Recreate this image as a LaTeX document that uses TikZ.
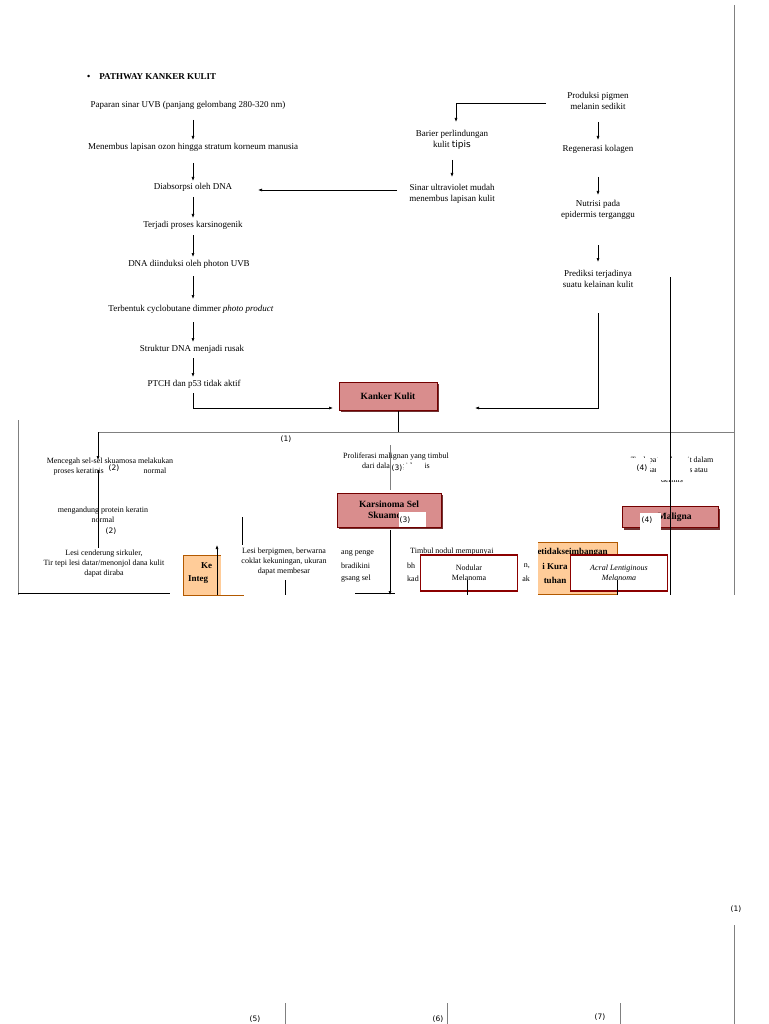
\documentclass[tikz,border=0pt]{standalone}
\usepackage{fontspec}
\setmainfont{Liberation Serif}
\newfontfamily\sansf{DejaVu Sans}
\usetikzlibrary{arrows.meta,shadows}
\begin{document}
\begin{tikzpicture}[x=1pt,y=-1pt,
  t/.style={font=\fontsize{9}{11}\selectfont,align=center,inner sep=0pt},
  s/.style={font=\fontsize{8}{10}\selectfont,align=center,inner sep=0pt},
  num/.style={font=\sansf\fontsize{7.5}{9}\selectfont,inner sep=0.5pt,fill=white},
  ar/.style={-{Latex[length=4pt,width=3pt]},line width=0.6pt},
  ln/.style={line width=0.6pt},
  rbox/.style={draw=red!45!black,fill=red!35!white!85!black,line width=0.7pt,minimum width=98pt,minimum height=28pt,font=\bfseries\fontsize{9.5}{11}\selectfont,align=center,drop shadow={shadow xshift=2pt,shadow yshift=-2pt,fill=red!30!black,opacity=0.8},inner sep=1pt},
  obox/.style={draw=orange!70!black,fill=orange!40,line width=0.5pt,align=center,inner sep=1pt},
  bt/.style={font=\bfseries\fontsize{9}{11}\selectfont,inner sep=0pt},
  wbox/.style={draw=red!55!black,fill=white,line width=1.2pt,font=\fontsize{8}{10}\selectfont,align=center,minimum width=97pt,minimum height=36pt,inner sep=1pt}]
\useasboundingbox (0,0) rectangle (768,1024);
\fill[white] (0,0) rectangle (768,1024);
% right border lines
\draw[gray,line width=0.8pt] (734,5) -- (734,595);
\coordinate (rb1) at (734,925); \coordinate (rb2) at (734,1024);
\draw[gray,line width=0.8pt] (rb1) -- (rb2);
\node[num] at (736,909) {(1)};
% title
\node[t,anchor=west,font=\bfseries\fontsize{9}{11}\selectfont] (title) at (87,77) {\textbullet\hspace{9pt}PATHWAY KANKER KULIT};
% left chain
\node[t] (a1) at (188,105) {Paparan sinar UVB (panjang gelombang 280-320 nm)};
\node[t] (a2) at (193,147) {Menembus lapisan ozon hingga stratum korneum manusia};
\node[t] (a3) at (193,187) {Diabsorpsi oleh DNA};
\node[t] (a4) at (193,225) {Terjadi proses karsinogenik};
\node[t] (a5) at (189,264) {DNA diinduksi oleh photon UVB};
\node[t] (a6) at (191,309) {Terbentuk cyclobutane dimmer \textit{photo product}};
\node[t] (a7) at (192,349) {Struktur DNA menjadi rusak};
\node[t] (a8) at (194,384) {PTCH dan p53 tidak aktif};
\draw[ar] (193,120) -- (193,140);
\draw[ar] (193,163) -- (193,181);
\draw[ar] (193,197) -- (193,218);
\draw[ar] (193,235) -- (193,257);
\draw[ar] (193,276) -- (193,299);
\draw[ar] (193,322) -- (193,342);
\draw[ar] (193,358) -- (193,377);
% right chains
\node[t] (b1) at (598,101) {Produksi pigmen\\melanin sedikit};
\node[t] (b2) at (452,140) {Barier perlindungan\\kulit {\sansf tipis}};
\node[t] (b3) at (452,194) {Sinar ultraviolet mudah\\menembus lapisan kulit};
\node[t] (c2) at (598,149) {Regenerasi kolagen};
\node[t] (c3) at (598,210) {Nutrisi pada\\epidermis terganggu};
\node[t] (c4) at (598,279) {Prediksi terjadinya\\suatu kelainan kulit};
\draw[ar] (546,103) -- (456,103) -- (456,122);
\draw[ar] (452,160) -- (452,177);
\draw[ar] (397,190) -- (258,190);
\draw[ar] (598,122) -- (598,140);
\draw[ar] (598,177) -- (598,195);
\draw[ar] (598,245) -- (598,262);
% Kanker Kulit
\node[rbox] (kk) at (388,396) {Kanker Kulit};
\draw[ar] (598,313) -- (598,408) -- (475,408);
\draw[ar] (193,393) -- (193,408) -- (333,408);
\draw[ln] (670,277) -- (670,595);
\draw[ln] (398,411) -- (398,432);
\draw[ln,gray] (98,432) -- (734,432);
\draw[ln,gray] (18,420) -- (18,595);
\node[num] at (286,439) {(1)};
% left branch
\draw[ar] (98,432) -- (98,460);
\node[s] (d1) at (110,467) {Mencegah sel-sel skuamosa melakukan\\proses keratinis\hspace{40pt}normal};
\draw[ln] (98,470) -- (98,548);
\node[s] (d2) at (103,515) {mengandung protein keratin\\normal};
\node[s] (d3) at (104,564) {Lesi cenderung sirkuler,\\Tir tepi lesi datar/menonjol dana kulit\\dapat diraba};
\node[num] at (114,468) {(2)};
\node[num] at (111,531) {(2)};
\draw[ln] (18,593) -- (170,593);
\node[obox,minimum width=60pt,minimum height=40pt,anchor=north west] (ke) at (183,555) {};
\node[bt,anchor=west] at (201,566) {Ke};
\node[bt,anchor=west] at (188,580) {Integ};
\fill[white] (221,545) rectangle (300,595);
\draw[ar] (217,595) -- (217,545);
\draw[ln] (242,517) -- (242,545);
\node[s] (d4) at (284,562) {Lesi berpigmen, berwarna\\coklat kekuningan, ukuran\\dapat membesar};
\draw[ln] (285,580) -- (285,595);
% middle branch
\node[s] (e1) at (396,462) {Proliferasi malignan yang timbul\\dari dalam epidermis};
\node[rbox,minimum width=104pt,minimum height=34pt] (ks) at (389,510) {Karsinoma Sel\\Skuamosa};
\fill[white] (404,464) rectangle (425,474);
\fill[white] (399,512) rectangle (426,527);
\node[num] at (397,468) {(3)};
\node[num] at (405,520) {(3)};
\draw[ln,gray] (390,445) -- (390,490);
\draw[ar] (390,530) -- (390,595);
\draw[ln] (355,593) -- (395,593);
\node[s,anchor=west] at (341,553) {ang penge};
\node[s,anchor=west] at (341,566) {bradikini};
\node[s,anchor=west] at (341,579) {gsang sel};
\fill[white] (378,545) rectangle (388,590);
\node[s,anchor=west] at (410,552) {Timbul nodul mempunyai};
\node[s,anchor=west] at (407,566) {bh};
\node[s,anchor=west] at (407,579) {kad};
\node[obox,minimum width=117pt,minimum height=52pt,anchor=north west] (kt) at (500,542) {};
\node[bt] at (570,552) {ketidakseimbangan};
\node[bt] at (555,566) {i Kura};
\node[bt] at (555,580) {tuhan};
\fill[white] (500,540) rectangle (538,595);
\node[s,anchor=east] at (530,566) {n,};
\node[s,anchor=east] at (530,579) {ak};
\node[wbox] (nm) at (469,573) {Nodular\\Melanoma};
\node[wbox] (al) at (619,573) {\textit{Acral Lentiginous}\\\textit{Melanoma}};
\draw[ln] (467,580) -- (467,595);
\draw[ln] (617,580) -- (617,595);
% right branch
\node[s] (f1) at (672,470) {Terdapat melanosit dalam\\lapisan epidermis atau\\dermis};
\fill[white] (630,458) rectangle (650,483);
\fill[white] (656,458) rectangle (690,480);
\node[num] at (642,468) {(4)};
\node[rbox,minimum width=96pt,minimum height=21pt] (mg) at (670,517) {\phantom{xx}Maligna};
\fill[white] (640,513) rectangle (661,531);
\node[num] at (647,520) {(4)};
\draw[ln] (670,277) -- (670,595);
% bottom fragments
\draw[ln,gray] (285,1003) -- (285,1024);
\draw[ln,gray] (447,1003) -- (447,1024);
\draw[ln,gray] (620,1003) -- (620,1024);
\node[num] at (600,1017) {(7)};
\node[num] at (255,1019) {(5)};
\node[num] at (438,1019) {(6)};
\end{tikzpicture}
\end{document}
